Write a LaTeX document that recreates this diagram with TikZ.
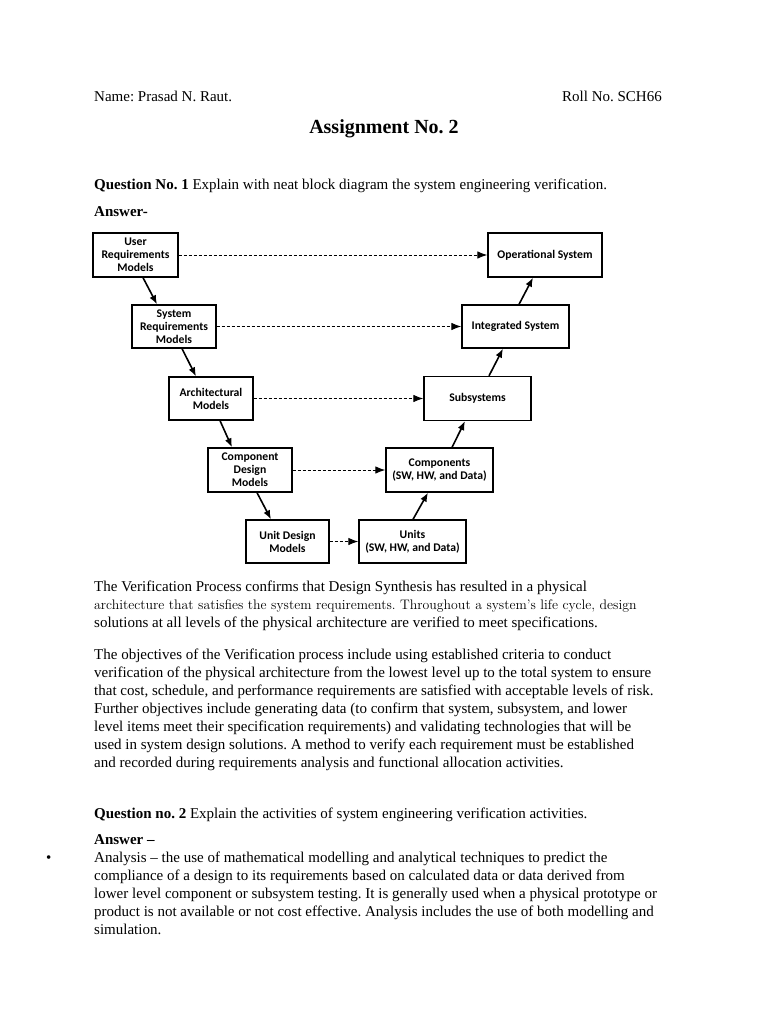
\documentclass[tikz,border=0pt]{standalone}
\usepackage{fontspec}
\setmainfont{Liberation Serif}
\newfontfamily\calfont{Carlito}
\usetikzlibrary{arrows.meta}
\frenchspacing

\begin{document}
\begin{tikzpicture}[x=1pt,y=-1pt,
  blk/.style={draw, line width=1.3pt, align=center, inner sep=0pt,
    font=\calfont\bfseries\fontsize{11.7}{13}\selectfont},
  sol/.style={line width=1.6pt, -{Latex[length=9pt,width=7pt]}},
  dsh/.style={line width=1pt, dash pattern=on 3pt off 2pt, -{Latex[length=10pt,width=7.5pt]}},
  txt/.style={anchor=base west, inner sep=0pt, align=left,
    font=\frenchspacing\fontsize{15}{18}\selectfont}]

% Pagina
\useasboundingbox (0,0) rectangle (768,1024);
\fill[white] (0,0) rectangle (768,1024);

% Intestazione
\node[txt] (name) at (94,102) {Name: Prasad N. Raut.};
\node[txt, anchor=base east] (roll) at (662,102) {Roll No. SCH66};
\node[anchor=base, inner sep=0pt, font=\bfseries\fontsize{20}{24}\selectfont] (title) at (384,134) {Assignment No. 2};

% Domanda 1
\node[txt] (q1) at (94,190) {\textbf{Question No. 1} Explain with neat block diagram the system engineering verification.};
\node[txt] (ans1) at (94,217) {\textbf{Answer-}};

% Blocchi a sinistra
\node[blk, minimum width=85, minimum height=44] (UR) at (135.5,255) {User\\Requirements\\Models};
\node[blk, minimum width=84, minimum height=43] (SR) at (174,326.5) {System\\Requirements\\Models};
\node[blk, minimum width=84, minimum height=43] (AM) at (211,398.5) {Architectural\\Models};
\node[blk, minimum width=84, minimum height=44] (CD) at (250,470) {Component\\Design\\Models};
\node[blk, minimum width=83, minimum height=43] (UD) at (287.5,541.5) {Unit Design\\Models};

% Blocchi a destra
\node[blk, minimum width=107, minimum height=43] (UN) at (412.5,541.5) {Units\\(SW, HW, and Data)};
\node[blk, minimum width=107, minimum height=44] (CO) at (439.5,470) {Components\\(SW, HW, and Data)};
\node[blk, minimum width=107, minimum height=44] (SS) at (477.5,398.5) {Subsystems};
\node[blk, minimum width=107, minimum height=43] (IS) at (515.5,326.5) {Integrated System};
\node[blk, minimum width=114, minimum height=44] (OS) at (545,255) {Operational System};

% Frecce in discesa
\draw[sol] ([xshift=7.5pt]UR.south) -- ([xshift=-17pt]SR.north);
\draw[sol] ([xshift=8pt]SR.south) -- ([xshift=-15pt]AM.north);
\draw[sol] ([xshift=9pt]AM.south) -- ([xshift=-18pt]CD.north);
\draw[sol] ([xshift=7pt]CD.south) -- ([xshift=-16.5pt]UD.north);

% Frecce in salita
\draw[sol] ([xshift=0.5pt]UN.north) -- ([xshift=-11.5pt]CO.south);
\draw[sol] ([xshift=12.5pt]CO.north) -- ([xshift=-12.5pt]SS.south);
\draw[sol] ([xshift=11.5pt]SS.north) -- ([xshift=-12.5pt]IS.south);
\draw[sol] ([xshift=3.5pt]IS.north) -- ([xshift=-12pt]OS.south);

% Linee tratteggiate
\draw[dsh] (UR.east) -- (OS.west);
\draw[dsh] (SR.east) -- (IS.west);
\draw[dsh] (AM.east) -- (SS.west);
\draw[dsh] (CD.east) -- (CO.west);
\draw[dsh] (UD.east) -- (UN.west);

% Testo (ancorato all'ultima riga)
\node[txt] (par1) at (94,627) {The Verification Process confirms that Design Synthesis has resulted in a physical\\
{\fontfamily{lmr}\selectfont\fontsize{13.8}{18}\selectfont architecture that satisfies the system requirements. Throughout a system's life cycle, design}\\
solutions at all levels of the physical architecture are verified to meet specifications.};
\node[txt] (par2) at (94,767) {The objectives of the Verification process include using established criteria to conduct\\
verification of the physical architecture from the lowest level up to the total system to ensure\\
that cost, schedule, and performance requirements are satisfied with acceptable levels of risk.\\
Further objectives include generating data (to confirm that system, subsystem, and lower\\
level items meet their specification requirements) and validating technologies that will be\\
used in system design solutions. A method to verify each requirement must be established\\
and recorded during requirements analysis and functional allocation activities.};

% Domanda 2
\node[txt] (q2) at (94,818) {\textbf{Question no. 2} Explain the activities of system engineering verification activities.};
\node[txt] (ans2) at (94,844) {\textbf{Answer –}};
\node[txt] (bul) at (46,862) {•};
\node[txt] (par3) at (94,934) {Analysis – the use of mathematical modelling and analytical techniques to predict the\\
compliance of a design to its requirements based on calculated data or data derived from\\
lower level component or subsystem testing. It is generally used when a physical prototype or\\
product is not available or not cost effective. Analysis includes the use of both modelling and\\
simulation.};

\end{tikzpicture}
\end{document}
